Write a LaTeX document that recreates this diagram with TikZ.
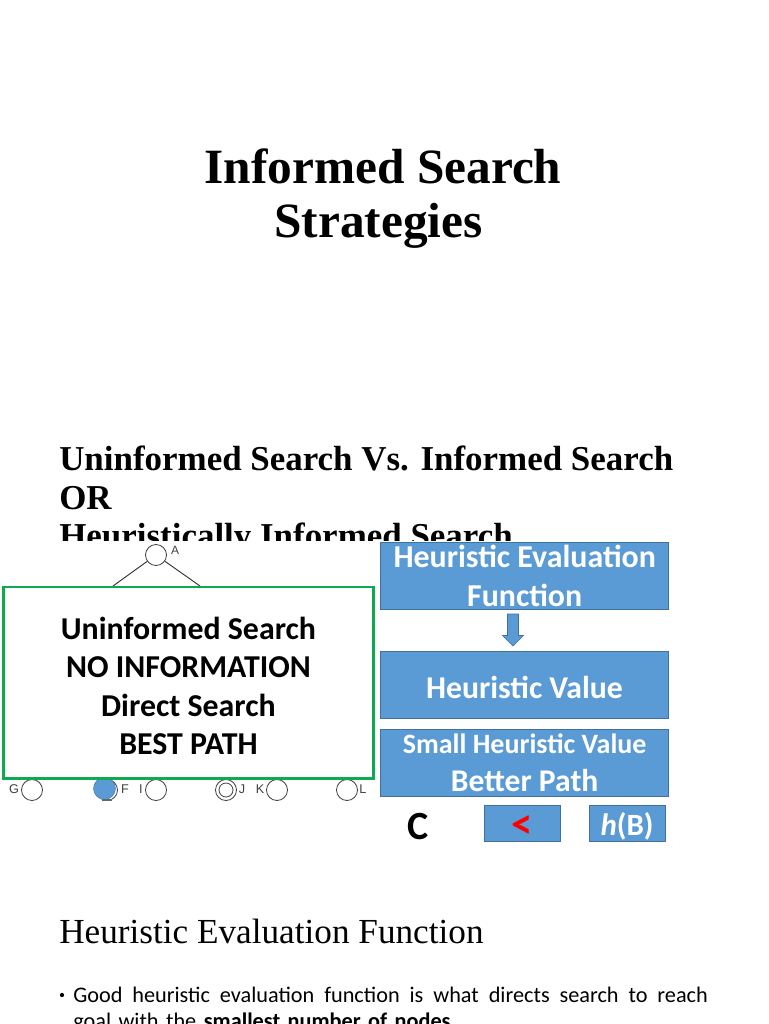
\documentclass[tikz,border=0pt]{standalone}
\usepackage{fontspec}
\setmainfont{Liberation Serif}
\newfontfamily\calfont{Carlito}
\newfontfamily\arifont{Liberation Sans}
\definecolor{bluefill}{HTML}{5B9BD5}
\definecolor{blueedge}{HTML}{41719C}
\definecolor{greenedge}{HTML}{0FA950}
\tikzset{
  pxgrid/.style={x=0.75pt,y=-0.75pt},
  bluebox/.style={draw=blueedge,line width=0.6pt,fill=bluefill,text=white,align=center,inner sep=0pt,anchor=north west},
  boxtext/.style={inner sep=0pt,align=center,text=white},
  titletext/.style={align=center,inner sep=0pt,text=black},
  treenode/.style={circle,draw=black!75,fill=white,line width=0.6pt,minimum size=15.75pt,inner sep=0pt},
  treeedge/.style={draw=black!80,line width=0.7pt},
  treelabel/.style={text=black!75,inner sep=0pt},
}
\begin{document}
\begin{tikzpicture}[pxgrid]
\useasboundingbox (0,0) rectangle (768,1024);
\fill[white] (0,0) rectangle (768,1024);
\clip (0,0) rectangle (768,1024);
% titles
\node[titletext,font=\bfseries\fontsize{37}{41}\selectfont] (title) at (383,198.5) {Informed Search\\Strategies\hspace*{6.5pt}};
\node[titletext,anchor=west,font=\bfseries\fontsize{26.2}{28.7}\selectfont,align=left] (sub) at (59,500.5) {Uninformed Search Vs. Informed Search\\OR\\Heuristically Informed Search};
\fill[white] (0,541) rectangle (768,1024);
% tree
\node[treenode] (A) at (156,555) {};
\node[treelabel,font=\arifont\fontsize{9}{10}\selectfont] (la) at (175,550) {A};
\coordinate (ab) at (113,586);
\coordinate (ac) at (200,586);
\draw[treeedge] (A) -- (ab);
\draw[treeedge] (A) -- (ac);
\node[treenode] (G) at (32,790) {};
\node[treenode] (E) at (107,790) {};
\node[circle,fill=bluefill,draw=blueedge,line width=0.3pt,minimum size=16.5pt,inner sep=0pt] (Fb) at (104.5,788.5) {};
\fill[black!60] (102,798.5) rectangle (112,800.5);
\node[treenode] (I) at (156,790) {};
\node[treenode] (J) at (226,790) {};
\node[circle,draw=black!75,line width=0.6pt,minimum size=10.5pt,inner sep=0pt] (Ji) at (226,790) {};
\node[treenode] (K) at (277,790) {};
\node[treenode] (L) at (347,790) {};
\foreach \n/\x/\t in {lg/14/G,lf/125/F,li/141/I,lj/242/J,lk/260/K,ll/363/L}{
  \node[treelabel,font=\arifont\fontsize{9.5}{11}\selectfont] (\n) at (\x,789) {\t};
}
% green box
\node[draw=greenedge,line width=2.2pt,outer sep=0pt,fill=white,minimum width=277.5pt,minimum height=143.5pt,inner sep=0pt,anchor=north west] (box) at (3.7,587) {};
\node[inner sep=0pt,font=\calfont\bfseries\fontsize{23.9}{28.9}\selectfont,align=center,text=black] (boxt) at (188.5,686)
  {Uninformed Search\\NO INFORMATION\\Direct Search\\BEST PATH};
% blue boxes
\node[bluebox,minimum width=216pt,minimum height=49.9pt,font=\calfont\bfseries\fontsize{23.9}{29}\selectfont] (h1) at (380.3,542) {Heuristic Evaluation\\Function};
\node[bluebox,minimum width=216pt,minimum height=49.9pt] (h2) at (380.3,651) {};
\node[boxtext,font=\calfont\bfseries\fontsize{23.8}{29}\selectfont] (h2t) at (524.5,687) {Heuristic Value};
\node[bluebox,minimum width=216pt,minimum height=49.9pt,font=\calfont\bfseries\fontsize{21}{28}\selectfont] (h3) at (380.3,729) {Small Heuristic Value\\{\fontsize{23.7}{28}\selectfont Better Path}};
\fill[bluefill,draw=blueedge,line width=0.5pt] (507.5,614) -- (518.5,614) -- (518.5,635.5) -- (523.5,635.5) -- (513,646) -- (502.5,635.5) -- (507.5,635.5) -- cycle;
\node[font=\calfont\bfseries\fontsize{30}{32}\selectfont,inner sep=0pt,text=black] (c) at (418,827) {C};
\node[bluebox,minimum width=56.5pt,minimum height=27pt] (lt) at (484.3,805) {};
\node[boxtext,text=red,font=\calfont\bfseries\fontsize{32}{32}\selectfont] (ltt) at (522,827) {<};
\node[bluebox,minimum width=56.5pt,minimum height=27pt] (hb) at (589.3,805) {};
\node[boxtext,font=\calfont\bfseries\fontsize{23.2}{24}\selectfont] (hbt) at (627,826) {\textit{h}(B)};
% section
\node[inner sep=0pt,anchor=west,font=\fontsize{26.4}{30}\selectfont,text=black] (sec) at (59,931) {Heuristic Evaluation Function};
\fill[black] (62,995) circle (1.6pt);
\node[inner sep=0pt,anchor=north west,font=\calfont\fontsize{16.7}{19.5}\selectfont,text=black,text width=476pt,align=left] (body) at (73,987)
 {\hbox to 476pt{Good\hfill heuristic\hfill evaluation\hfill function\hfill is\hfill what\hfill directs\hfill search\hfill to\hfill reach}\\goal with the \textbf{smallest number of nodes}.};
\end{tikzpicture}
\end{document}
